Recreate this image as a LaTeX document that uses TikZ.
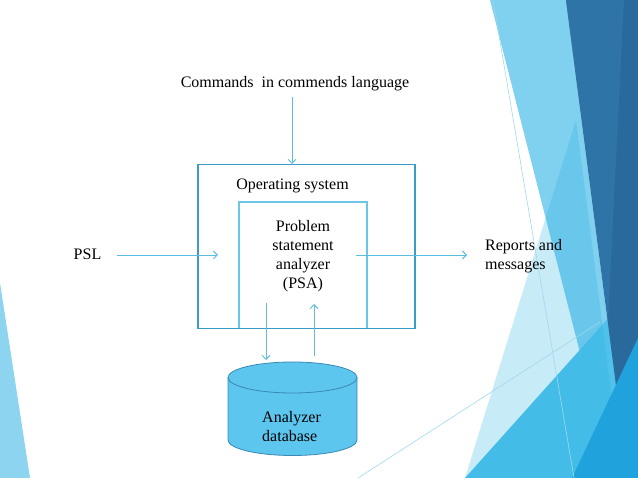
\documentclass[tikz,border=0pt]{standalone}
\usepackage{fontspec}
\setmainfont{Liberation Serif}
\usetikzlibrary{arrows.meta}
\definecolor{lightstrip}{HTML}{80D0EF}
\definecolor{darkblue}{HTML}{2A699B}
\definecolor{darkband}{HTML}{2F74A6}
\definecolor{paleov}{HTML}{23AFE3}
\definecolor{medblue}{HTML}{50C1EA}
\definecolor{brightblue}{HTML}{20A3DC}
\definecolor{lefttri}{HTML}{8CD4F0}
\definecolor{thinline}{HTML}{9FD8EE}
\definecolor{arrowc}{HTML}{5CBCE2}
\definecolor{outerc}{HTML}{3B9BC8}
\definecolor{innerc}{HTML}{6CC6E8}
\definecolor{dbfill}{HTML}{5CC6EE}
\definecolor{dbline}{HTML}{3A88B4}
\begin{document}
\begin{tikzpicture}[x=1pt,y=-1pt,font=\fontsize{16}{19}\selectfont,
  lbl/.style={inner sep=0pt,anchor=base},
  arr/.style={draw=arrowc,line width=0.9pt,-{Straight Barb[length=4pt,width=8pt]}},
  thin/.style={draw=thinline,line width=0.6pt}]
\useasboundingbox (0,0) rectangle (638,478);
% background decoration
\fill[lefttri] (0,283) -- (0,478) -- (30,478) -- cycle;
\fill[lightstrip] (490,0) -- (566,0) -- (628,478) -- (612,478) -- cycle;
\fill[medblue] (465,478) -- (638,285) -- (638,478) -- cycle;
\fill[darkblue] (566,0) -- (638,0) -- (638,478) -- (628,478) -- cycle;
\fill[darkband] (566,0) -- (624,0) -- (608,320) -- cycle;
\fill[paleov,opacity=0.25] (576,120) -- (612,400) -- (612,478) -- (465,478) -- cycle;
\fill[brightblue] (638,338) -- (638,478) -- (572,478) -- cycle;
\draw[thin] (493,0) -- (574,478);
\draw[thin] (358,478) -- (600,322);
% diagram
\node[lbl] (cmd) at (295,88) {Commands\ \ in commends language};
\node[draw=outerc,line width=1.5pt,inner sep=0pt,minimum width=217pt,minimum height=164pt,anchor=north west] (os) at (197,164) {};
\node[lbl] (ostext) at (292.5,190) {Operating system};
\coordinate (inBL) at (239,328);
\coordinate (inTL) at (239,202);
\coordinate (inTR) at (367,202);
\coordinate (inBR) at (367,328);
\draw[innerc,line width=1.3pt] (inBL) -- (inTL) -- (inTR) -- (inBR);
\node[lbl,align=center] (psa) at (303,289) {Problem\\statement\\analyzer\\(PSA)};
\node[lbl] (psl) at (87.5,260) {PSL};
\node[lbl,anchor=base west,align=left] (rep) at (485,270) {Reports and\\messages};
% database cylinder
\filldraw[fill=dbfill,draw=dbline,line width=0.8pt] (228,377.5) -- (228,440)
  arc[start angle=180,end angle=360,x radius=64.5pt,y radius=15.5pt] -- (357,377.5)
  arc[start angle=0,end angle=180,x radius=64.5pt,y radius=15.5pt] -- cycle;
\draw[dbline,line width=0.8pt] (228,377.5) arc[start angle=180,end angle=360,x radius=64.5pt,y radius=15.5pt];
\node[lbl,anchor=base west,align=left] (db) at (262,442) {Analyzer\\database};
% connectors
\coordinate (cmdA) at (292,97);
\draw[arr] (cmdA) -- (cmdA |- os.north);
\coordinate (pslA) at (117,255);
\coordinate (pslB) at (218,255);
\draw[arr] (pslA) -- (pslB);
\coordinate (outA) at (356,255);
\coordinate (outB) at (467,255);
\draw[arr] (outA) -- (outB);
\coordinate (dnA) at (266,303);
\coordinate (dnB) at (266,360);
\draw[arr] (dnA) -- (dnB);
\coordinate (upA) at (314,356);
\coordinate (upB) at (314,304);
\draw[arr] (upA) -- (upB);
\end{tikzpicture}
\end{document}
